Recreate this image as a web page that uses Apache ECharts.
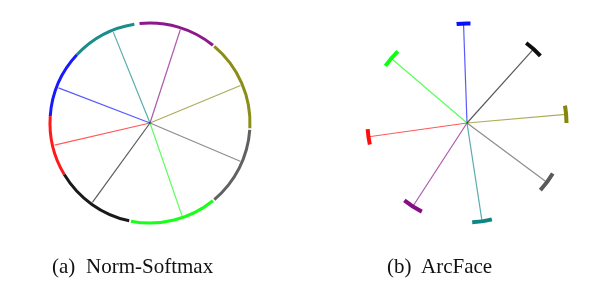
<!DOCTYPE html>
<html>
<head>
<meta charset="utf-8">
<script src="https://cdn.jsdelivr.net/npm/echarts@6/dist/echarts.min.js"></script>
<style>html,body{margin:0;padding:0;background:#fff}#c{width:590px;height:288px}</style>
</head>
<body>
<div id="c"></div>
<script>
// class order: olive, purple, teal, blue, red, black, green, gray
const classNames = ['olive', 'purple', 'teal', 'blue', 'red', 'black', 'green', 'gray'];
const classColors = ['#808000', '#800080', '#008080', '#0000ff', '#ff0000', '#000000', '#00ff00', '#505050'];

// (a) Norm-Softmax: weight-vector angles (deg) and feature arc extents (deg)
const weightAngleA = [22.5, 72, 112, 159, 193, 234, 289, 337];
const arcStartA = [-3, 51, 99, 137, 176, 211, 259, 310];
const arcEndA   = [50, 96, 137, 176, 211, 258, 309, 356];

// (b) ArcFace: weight-vector angles (deg) and compact cluster extents (deg)
const weightAngleB = [5, 237, 278.7, 92, 188, 48, 139.5, 323.4];
const capStartB = [0, 231, 273, 88, 183.5, 42.5, 134, 317.5];
const capEndB   = [10, 243, 284.5, 96, 192.5, 53.5, 145, 329.5];

const captionTags = ['(a)', '(b)'];
const captionNames = ['Norm-Softmax', 'ArcFace'];

const centers = [[150, 123], [467, 123]];
const R = 100;

function pieData(starts, ends, colors) {
  const idx = starts.map((s, i) => i).sort((a, b) => starts[a] - starts[b]);
  const first = starts[idx[0]];
  let pos = first;
  const out = [];
  idx.forEach(i => {
    if (starts[i] > pos) out.push({ value: starts[i] - pos, itemStyle: { color: 'rgba(0,0,0,0)' } });
    out.push({ value: ends[i] - starts[i], itemStyle: { color: colors[i] } });
    pos = ends[i];
  });
  if (first + 360 > pos) out.push({ value: first + 360 - pos, itemStyle: { color: 'rgba(0,0,0,0)' } });
  return { data: out, startAngle: first };
}

const series = [];
[weightAngleA, weightAngleB].forEach((angles, p) => {
  angles.forEach((a, i) => {
    series.push({
      type: 'line', coordinateSystem: 'polar', polarIndex: p,
      data: [[0, a], [p === 0 ? 0.98 : 0.99, a]],
      symbol: 'none', silent: true, animation: false,
      lineStyle: { color: classColors[i], width: 1.2, opacity: 0.65 }
    });
  });
});

const pa = pieData(arcStartA, arcEndA, classColors);
series.push({
  type: 'pie', center: centers[0], radius: [R - 1.5, R + 1.5],
  startAngle: pa.startAngle, clockwise: false, silent: true, animation: false,
  label: { show: false }, labelLine: { show: false },
  itemStyle: { borderWidth: 0, opacity: 0.9 }, data: pa.data
});
const pb = pieData(capStartB, capEndB, classColors);
series.push({
  type: 'pie', center: centers[1], radius: [R - 2.5, R + 1.5],
  startAngle: pb.startAngle, clockwise: false, silent: true, animation: false,
  label: { show: false }, labelLine: { show: false },
  itemStyle: { borderWidth: 0, opacity: 0.95 }, data: pb.data
});

const font = '21px "Liberation Serif"';
const tagX = [52, 387];
const nameX = [86, 421];
const captionY = 267;
const graphics = [];
[0, 1].forEach(i => {
  graphics.push({ type: 'text', x: tagX[i], y: captionY,
    style: { text: captionTags[i], textAlign: 'left', textVerticalAlign: 'middle', font: font, fill: '#111' } });
  graphics.push({ type: 'text', x: nameX[i], y: captionY,
    style: { text: captionNames[i], textAlign: 'left', textVerticalAlign: 'middle', font: font, fill: '#111' } });
});

const chart = echarts.init(document.getElementById('c'), null, { renderer: 'canvas' });
chart.setOption({
  animation: false,
  backgroundColor: '#fff',
  polar: centers.map(c => ({ center: c, radius: R })),
  angleAxis: [0, 1].map(p => ({ polarIndex: p, type: 'value', min: 0, max: 360, startAngle: 0, clockwise: false, show: false })),
  radiusAxis: [0, 1].map(p => ({ polarIndex: p, type: 'value', min: 0, max: 1, show: false })),
  graphic: graphics,
  series: series
});
</script>
</body>
</html>
